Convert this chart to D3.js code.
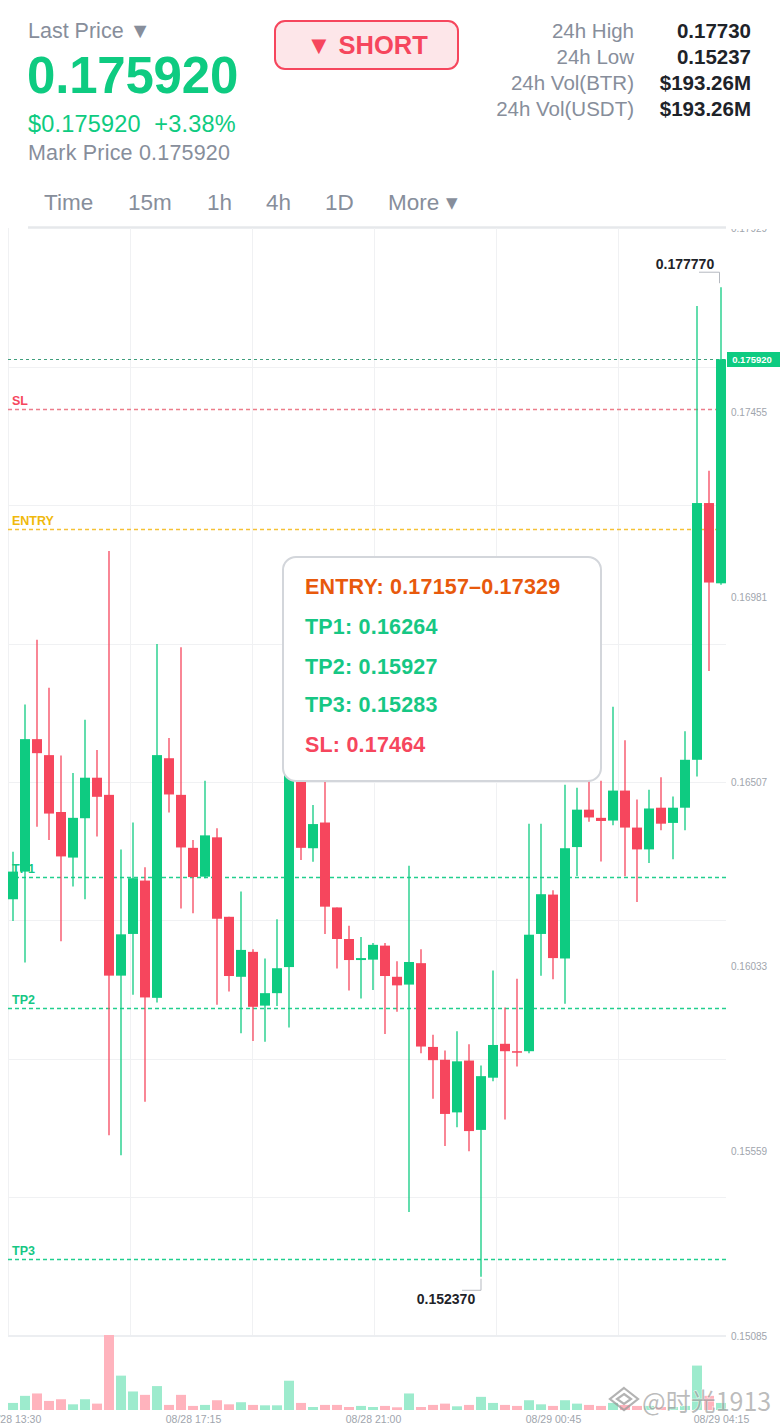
<!DOCTYPE html>
<html>
<head>
<meta charset="utf-8">
<script src="https://cdn.jsdelivr.net/npm/d3@7"></script>
<style>
  html, body { margin: 0; padding: 0; background: #fff; }
  svg { display: block; font-family: "Liberation Sans", Arial, Helvetica, sans-serif; }
</style>
</head>
<body>
<svg id="chart" width="780" height="1428"></svg>
<script>
// ---------------- DATA ----------------
const startTime = "2025-08-28T13:30:00";
const candleMinutes = 15;
const openArr = [0.16206,0.16277,0.16617,0.16576,0.16430,0.16313,0.16414,0.16518,0.16474,0.16010,
  0.16117,0.16254,0.15953,0.16568,0.16474,0.16338,0.16264,0.16365,0.16161,0.16007,
  0.16071,0.15933,0.15965,0.16032,0.16530,0.16337,0.16403,0.16185,0.16104,0.16050,
  0.16051,0.16087,0.16007,0.15987,0.16042,0.15827,0.15794,0.15659,0.15792,0.15614,
  0.15748,0.15835,0.15816,0.15816,0.16117,0.16218,0.16054,0.16340,0.16436,0.16415,
  0.16408,0.16485,0.16390,0.16334,0.16441,0.16402,0.16441,0.16564,0.17223,0.17017];
const highArr = [0.16328,0.16706,0.16872,0.16749,0.16575,0.16530,0.16667,0.16589,0.17100,0.16334,
  0.16403,0.16288,0.16861,0.16620,0.16853,0.16358,0.16510,0.16388,0.16161,0.16226,
  0.16078,0.16054,0.16155,0.16602,0.16564,0.16448,0.16538,0.16185,0.16138,0.16109,
  0.16094,0.16094,0.16047,0.16292,0.16078,0.15858,0.15818,0.15867,0.15834,0.15779,
  0.16023,0.15928,0.16002,0.16400,0.16400,0.16229,0.16500,0.16492,0.16538,0.16510,
  0.16700,0.16614,0.16462,0.16487,0.16519,0.16470,0.16637,0.17729,0.17306,0.17777];
const lowArr = [0.16150,0.16044,0.16392,0.16358,0.16098,0.16239,0.16206,0.16367,0.15600,0.15549,
  0.15961,0.15686,0.15941,0.16429,0.16182,0.16170,0.16260,0.15935,0.15969,0.15862,
  0.15842,0.15840,0.15932,0.15877,0.16307,0.16302,0.16117,0.16028,0.15972,0.15951,
  0.15973,0.15860,0.15917,0.15403,0.15811,0.15694,0.15573,0.15621,0.15559,0.15237,
  0.15739,0.15641,0.15777,0.15811,0.16010,0.16001,0.15938,0.16266,0.16405,0.16303,
  0.16396,0.16265,0.16199,0.16299,0.16383,0.16309,0.16383,0.16521,0.16792,0.17013];
const closeArr = [0.16277,0.16617,0.16581,0.16426,0.16316,0.16415,0.16518,0.16469,0.16010,0.16116,
  0.16260,0.15954,0.16576,0.16475,0.16339,0.16263,0.16370,0.16156,0.16009,0.16076,
  0.15930,0.15965,0.16029,0.16533,0.16338,0.16399,0.16187,0.16104,0.16050,0.16055,
  0.16089,0.16009,0.15985,0.16045,0.15828,0.15793,0.15655,0.15790,0.15611,0.15752,
  0.15832,0.15816,0.15813,0.16115,0.16219,0.16055,0.16337,0.16436,0.16416,0.16407,
  0.16485,0.16390,0.16334,0.16439,0.16400,0.16441,0.16564,0.17223,0.17019,0.17592];
const volumeArr = [7.1,14.2,16.6,9.1,10.8,5.7,10.8,6.4,75.3,34.5,
  18.6,15.2,24.0,5.1,15.2,4.1,5.1,9.8,5.7,7.8,
  5.1,4.7,4.7,29.4,7.1,3.0,5.1,5.1,3.0,4.1,
  3.0,4.1,2.7,16.6,3.0,5.1,6.4,3.7,5.1,13.2,
  7.1,5.1,4.1,9.8,5.7,4.1,9.8,6.4,5.1,4.1,
  7.1,5.1,4.1,4.1,3.0,3.0,4.1,44.6,14.2,7.1];

const yTickValues = [0.15085,0.15559,0.16033,0.16507,0.16981,0.17455,0.17929];
const xTickIndex = [0,15,30,45,59];

const levelNames = ["SL","ENTRY","TP1","TP2","TP3"];
const levelPrices = [0.17464,0.17157,0.16264,0.15927,0.15283];
const entryUpper = 0.17329;

const headerStats = ["24h High","24h Low","24h Vol(BTR)","24h Vol(USDT)"];
const headerValues = ["0.17730","0.15237","$193.26M","$193.26M"];
const tabs = ["Time","15m","1h","4h","1D","More ▾"];
const changePct = "+3.38%";

// ---------------- SETUP ----------------
const GREEN = "#0ecb81", RED = "#f6465d", GRAY = "#878e9b", DARK = "#1e2329";
const svg = d3.select("#chart");
const parse = d3.timeParse("%Y-%m-%dT%H:%M:%S");
const t0 = parse(startTime);
const candles = openArr.map((o, i) => ({
  t: d3.timeMinute.offset(t0, i * candleMinutes),
  o, h: highArr[i], l: lowArr[i], c: closeArr[i], v: volumeArr[i]
}));
const lastClose = closeArr[closeArr.length - 1];

const plot = {left: 8, right: 726, top: 228, bottom: 1336};
const x = d3.scaleTime().domain([candles[0].t, candles[candles.length-1].t]).range([13, 721]);
const y = d3.scaleLinear().domain([0.15085, 0.17929]).range([plot.bottom, plot.top]);
const vy = d3.scaleLinear().domain([0, d3.max(volumeArr)]).range([1410, 1335]);

// ---------------- HEADER ----------------
const hdr = svg.append("g");
hdr.append("text").attr("x", 28).attr("y", 38).attr("font-size", 21.5).attr("fill", GRAY).text("Last Price ▼");
hdr.append("text").attr("x", 27).attr("y", 93).attr("font-size", 51).attr("font-weight", 700)
  .attr("fill", GREEN).attr("letter-spacing", -0.2).text(d3.format(".6f")(lastClose));
hdr.append("text").attr("x", 28).attr("y", 132).attr("font-size", 23.5).attr("fill", GREEN)
  .attr("letter-spacing", 0.2).attr("xml:space", "preserve")
  .text("$" + d3.format(".6f")(lastClose) + "  " + changePct);
hdr.append("text").attr("x", 28).attr("y", 160).attr("font-size", 21.5).attr("fill", GRAY)
  .attr("letter-spacing", 0.2).text("Mark Price " + d3.format(".6f")(lastClose));

hdr.append("rect").attr("x", 275).attr("y", 21).attr("width", 183).attr("height", 48).attr("rx", 10)
  .attr("fill", "#fde6e9").attr("stroke", RED).attr("stroke-width", 2);
hdr.append("text").attr("x", 367).attr("y", 54).attr("text-anchor", "middle").attr("font-size", 25.5)
  .attr("font-weight", 700).attr("fill", RED).text("▼ SHORT");

headerStats.forEach((s, i) => {
  const by = 38 + i * 26;
  hdr.append("text").attr("x", 634).attr("y", by).attr("text-anchor", "end").attr("font-size", 20.5)
    .attr("fill", GRAY).text(s);
  hdr.append("text").attr("x", 751).attr("y", by).attr("text-anchor", "end").attr("font-size", 20.5)
    .attr("font-weight", 700).attr("fill", DARK).text(headerValues[i]);
});

const tabX = [44, 128, 207, 266, 325, 388];
tabs.forEach((t, i) => {
  hdr.append("text").attr("x", tabX[i]).attr("y", 210).attr("font-size", 22.5).attr("fill", GRAY).text(t);
});
hdr.append("line").attr("x1", 28).attr("x2", 726).attr("y1", 227.5).attr("y2", 227.5)
  .attr("stroke", "#e6e8eb").attr("stroke-width", 2.5);

// ---------------- GRID ----------------
const grid = svg.append("g");
d3.range(plot.left, plot.right, 122).forEach(gx => {
  grid.append("line").attr("x1", gx + 0.5).attr("x2", gx + 0.5).attr("y1", plot.top).attr("y2", plot.bottom)
    .attr("stroke", "#f0f1f3").attr("stroke-width", 1);
});
const gStep = (y.domain()[1] - y.domain()[0]) / 8;
d3.range(1, 8).forEach(k => {
  const gy = Math.round(y(y.domain()[0] + k * gStep)) + 0.5;
  grid.append("line").attr("x1", plot.left).attr("x2", plot.right).attr("y1", gy).attr("y2", gy)
    .attr("stroke", "#f0f1f3").attr("stroke-width", 1);
});
grid.append("line").attr("x1", plot.left).attr("x2", plot.right).attr("y1", plot.bottom).attr("y2", plot.bottom)
  .attr("stroke", "#eceef1").attr("stroke-width", 2);

// Price axis (clip is in the axis group's local coordinates)
svg.append("clipPath").attr("id", "axclip").append("rect").attr("x", 0).attr("y", plot.top + 1)
  .attr("width", 60).attr("height", 1130);
const yAxis = svg.append("g")
  .attr("transform", `translate(${plot.right},0)`)
  .call(d3.axisRight(y).tickValues(yTickValues).tickFormat(d3.format(".5f")).tickSize(0).tickPadding(5));
yAxis.attr("clip-path", "url(#axclip)");
yAxis.select(".domain").remove();
yAxis.selectAll("text").attr("font-size", 10).attr("fill", "#a0a5ad").attr("font-family", "'Liberation Sans', Arial, sans-serif");

// ---------------- LEVEL LINES ----------------
const levelColors = {SL: RED, ENTRY: "#f0b90b", TP1: "#16c784", TP2: "#16c784", TP3: "#16c784"};
const levelLineColors = {SL: "#ec7d8c", ENTRY: "#f5c236", TP1: "#22cf8e", TP2: "#22cf8e", TP3: "#22cf8e"};
levelNames.forEach((n, i) => {
  const ly = Math.round(y(levelPrices[i])) + 0.5;
  svg.append("line").attr("x1", plot.left).attr("x2", plot.right).attr("y1", ly).attr("y2", ly)
    .attr("stroke", levelLineColors[n]).attr("stroke-width", 1.3).attr("stroke-dasharray", "4,3");
});
// current price line
const cy = Math.round(y(lastClose)) + 0.5;
svg.append("line").attr("x1", plot.left).attr("x2", plot.right).attr("y1", cy).attr("y2", cy)
  .attr("stroke", "#3f9e7c").attr("stroke-width", 1).attr("stroke-dasharray", "3,3");

// level labels (candles are drawn over them)
levelNames.forEach((n, i) => {
  const ly = y(levelPrices[i]);
  svg.append("text").attr("x", 12).attr("y", ly - 4).attr("font-size", 12.5).attr("font-weight", 700)
    .attr("fill", levelColors[n]).text(n);
});

// ---------------- VOLUME ----------------
svg.append("g").selectAll("rect").data(candles).join("rect")
  .attr("x", d => x(d.t) - 5).attr("width", 10)
  .attr("y", d => vy(d.v)).attr("height", d => vy(0) - vy(d.v))
  .attr("fill", d => d.c >= d.o ? "#9debcd" : "#ffb3bd");

// ---------------- CANDLES ----------------
const cg = svg.append("g");
cg.selectAll("line").data(candles).join("line")
  .attr("x1", d => x(d.t)).attr("x2", d => x(d.t))
  .attr("y1", d => y(d.h)).attr("y2", d => y(d.l))
  .attr("stroke", d => d.c >= d.o ? GREEN : RED).attr("stroke-width", 1.3);
cg.selectAll("rect").data(candles).join("rect")
  .attr("x", d => x(d.t) - 5).attr("width", 10)
  .attr("y", d => y(Math.max(d.o, d.c)))
  .attr("height", d => Math.max(1.5, Math.abs(y(d.o) - y(d.c))))
  .attr("fill", d => d.c >= d.o ? GREEN : RED);

// price tag
svg.append("rect").attr("x", 727).attr("y", cy - 7.5).attr("width", 53).attr("height", 15).attr("fill", GREEN);
svg.append("text").attr("x", 752).attr("y", cy + 3.5).attr("text-anchor", "middle").attr("font-size", 9.5)
  .attr("font-weight", 700).attr("fill", "#fff").text(d3.format(".6f")(lastClose));

// ---------------- HIGH / LOW MARKERS ----------------
const hiIdx = d3.maxIndex(candles, d => d.h);
const loIdx = d3.minIndex(candles, d => d.l);
const hx = x(candles[hiIdx].t), hy = y(candles[hiIdx].h);
svg.append("path").attr("d", `M${hx - 22},${hy - 15} H${hx - 1.5} V${hy - 4}`)
  .attr("fill", "none").attr("stroke", "#b5b9c0").attr("stroke-width", 1);
svg.append("text").attr("x", hx - 36).attr("y", hy - 18).attr("text-anchor", "middle").attr("font-size", 14)
  .attr("font-weight", 700).attr("fill", DARK).text(d3.format(".6f")(candles[hiIdx].h));
const lx = x(candles[loIdx].t), lyy = y(candles[loIdx].l);
svg.append("path").attr("d", `M${lx},${lyy + 2} V${lyy + 13.5} H${lx - 19}`)
  .attr("fill", "none").attr("stroke", "#b5b9c0").attr("stroke-width", 1);
svg.append("text").attr("x", lx - 35).attr("y", lyy + 27).attr("text-anchor", "middle").attr("font-size", 14)
  .attr("font-weight", 700).attr("fill", DARK).text(d3.format(".6f")(candles[loIdx].l));

// ---------------- TIME AXIS ----------------
const xAxis = svg.append("g").attr("transform", "translate(0,1413)")
  .call(d3.axisBottom(x).tickValues(xTickIndex.map(i => candles[i].t))
    .tickFormat(d3.timeFormat("%m/%d %H:%M")).tickSize(0).tickPadding(3));
xAxis.select(".domain").remove();
xAxis.selectAll("text").attr("font-size", 10.5).attr("fill", "#a0a5ad").attr("font-family", "'Liberation Sans', Arial, sans-serif");

// ---------------- TOOLTIP ----------------
const tip = svg.append("g");
tip.append("rect").attr("x", 283).attr("y", 557).attr("width", 318).attr("height", 224).attr("rx", 13)
  .attr("fill", "#fff").attr("stroke", "#d3d6db").attr("stroke-width", 2);
const f5 = d3.format(".5f");
const tipLines = [
  {t: `ENTRY: ${f5(levelPrices[1])}–${f5(entryUpper)}`, c: "#e8590c"},
  {t: `TP1: ${f5(levelPrices[2])}`, c: "#16c784"},
  {t: `TP2: ${f5(levelPrices[3])}`, c: "#16c784"},
  {t: `TP3: ${f5(levelPrices[4])}`, c: "#16c784"},
  {t: `SL: ${f5(levelPrices[0])}`, c: RED}
];
const tipY = [594, 634, 674, 712, 752];
tipLines.forEach((l, i) => {
  tip.append("text").attr("x", 305).attr("y", tipY[i]).attr("font-size", 21.5).attr("font-weight", 700)
    .attr("letter-spacing", 0.2).attr("fill", l.c).text(l.t);
});

// ---------------- WATERMARK ----------------
const wm = svg.append("g").attr("opacity", 0.75);
wm.append("path")
  .attr("d", "M624,1388 L638,1399 L624,1410 L610,1399 Z M624,1394 L631,1399 L624,1404 L617,1399 Z")
  .attr("fill", "none").attr("stroke", "#9a9a9a").attr("stroke-width", 2.2);
wm.append("text").attr("x", 642).attr("y", 1411).attr("font-size", 25)
  .attr("font-family", "'Noto Sans CJK SC', 'Noto Sans', sans-serif")
  .attr("fill", "rgba(150,150,150,0.85)").attr("stroke", "rgba(255,255,255,0.9)").attr("stroke-width", 1.2)
  .attr("paint-order", "stroke").text("@时光1913");
</script>
</body>
</html>
